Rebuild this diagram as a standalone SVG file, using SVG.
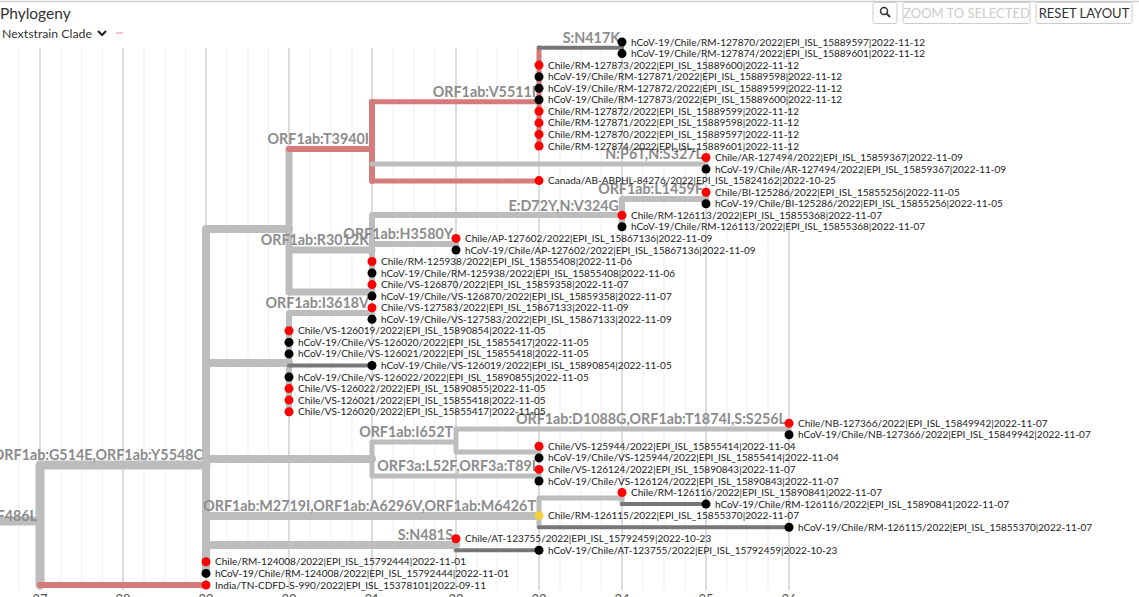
<svg xmlns="http://www.w3.org/2000/svg" width="1139" height="597" viewBox="0 0 1139 597">
<style>
.g{stroke:#bdbdbd;fill:none;stroke-linecap:round}
.r{stroke:#d57b7b;fill:none;stroke-linecap:round}
.d{stroke:#777;fill:none;stroke-linecap:round}
.mj{stroke:#dcdcdc;stroke-width:2}
.mn{stroke:#efefef;stroke-width:1}
.lab{font-family:Lato,"Open Sans",sans-serif;font-weight:bold;font-size:14.3px;fill:#8c8c8c;text-anchor:end}
.tip{font-family:Lato,"Open Sans",sans-serif;font-size:10px;fill:#222}
.ax{font-family:Lato,sans-serif;font-size:13px;fill:#555;text-anchor:middle}
.cr{fill:#f00}.ck{fill:#000}.cy{fill:#f4d03f}
.btn{fill:#fff;stroke:#ccc;stroke-width:1}
.bt{font-family:Lato,"Open Sans",sans-serif;font-size:13px;text-anchor:middle}
</style>
<rect width="1139" height="597" fill="#fff"/>
<line x1="0" y1="1.5" x2="1139" y2="1.5" stroke="#ccc" stroke-width="1.5"/>
<text x="0" y="19" font-family="Lato,sans-serif" font-size="15.5" fill="#333">Phylogeny</text>
<text x="2" y="38" font-family="Lato,sans-serif" font-size="12.3" fill="#333">Nextstrain Clade</text>
<path d="M98 31 l4 4 l4 -4" stroke="#222" stroke-width="2" fill="none"/>
<line x1="116" y1="33" x2="123" y2="33" stroke="#e58a8a" stroke-width="1"/>
<rect class="btn" x="873" y="2.5" width="24" height="21" rx="2"/>
<circle cx="884" cy="11" r="3.5" fill="none" stroke="#333" stroke-width="1.5"/>
<line x1="886.5" y1="13.5" x2="890" y2="17" stroke="#333" stroke-width="2"/>
<rect class="btn" x="903" y="2.5" width="127" height="21" rx="2"/>
<text class="bt" x="966.5" y="18" fill="#ccc">ZOOM TO SELECTED</text>
<rect class="btn" x="1036" y="2.5" width="96" height="21" rx="2"/>
<text class="bt" x="1084" y="18" fill="#333">RESET LAYOUT</text>
<g id="grid">
<g class="mn">
<line x1="19.2" y1="48" x2="19.2" y2="590"/><line x1="60.8" y1="48" x2="60.8" y2="590"/><line x1="81.6" y1="48" x2="81.6" y2="590"/><line x1="102.4" y1="48" x2="102.4" y2="590"/>
<line x1="144" y1="48" x2="144" y2="590"/><line x1="164.8" y1="48" x2="164.8" y2="590"/><line x1="185.6" y1="48" x2="185.6" y2="590"/>
<line x1="227" y1="48" x2="227" y2="590"/><line x1="248" y1="48" x2="248" y2="590"/><line x1="268.6" y1="48" x2="268.6" y2="590"/>
<line x1="310" y1="48" x2="310" y2="590"/><line x1="331" y1="48" x2="331" y2="590"/><line x1="352" y1="48" x2="352" y2="590"/>
<line x1="393" y1="48" x2="393" y2="590"/><line x1="414" y1="48" x2="414" y2="590"/><line x1="435" y1="48" x2="435" y2="590"/>
<line x1="477" y1="48" x2="477" y2="590"/><line x1="497" y1="48" x2="497" y2="590"/><line x1="518" y1="48" x2="518" y2="590"/>
<line x1="560" y1="48" x2="560" y2="590"/><line x1="581" y1="48" x2="581" y2="590"/><line x1="601" y1="48" x2="601" y2="590"/>
<line x1="643" y1="48" x2="643" y2="590"/><line x1="664" y1="48" x2="664" y2="590"/><line x1="685" y1="48" x2="685" y2="590"/>
<line x1="727" y1="48" x2="727" y2="590"/><line x1="747" y1="48" x2="747" y2="590"/><line x1="768" y1="48" x2="768" y2="590"/>
</g>
<g class="mj">
<line x1="40" y1="48" x2="40" y2="590"/><line x1="123" y1="48" x2="123" y2="590"/><line x1="206" y1="48" x2="206" y2="590"/><line x1="289" y1="48" x2="289" y2="590"/><line x1="372" y1="48" x2="372" y2="590"/><line x1="456" y1="48" x2="456" y2="590"/><line x1="539" y1="48" x2="539" y2="590"/><line x1="622" y1="48" x2="622" y2="590"/><line x1="706" y1="48" x2="706" y2="590"/><line x1="789" y1="48" x2="789" y2="590"/>
</g>
<text class="ax" x="40" y="604">27</text><text class="ax" x="123" y="604">28</text><text class="ax" x="206" y="604">29</text><text class="ax" x="289" y="604">30</text><text class="ax" x="372" y="604">31</text><text class="ax" x="456" y="604">32</text><text class="ax" x="539" y="604">33</text><text class="ax" x="622" y="604">34</text><text class="ax" x="706" y="604">35</text><text class="ax" x="789" y="604">36</text>
</g>
<g id="connectors">
<path class="g" stroke-width="9" d="M0 521H40M40 465V585M40 465H206"/>
<path class="r" stroke-width="6" d="M40 585H206"/>
<path class="g" stroke-width="8" d="M206 229V573M206 229H289M206 363H289M206 459H372M206 516H539M206 545H456"/>
<path class="g" stroke-width="7" d="M289 149V292M289 250H372M289 292H372"/>
<path class="r" stroke-width="6" d="M289 149H372M372 101.7V181"/>
<path class="r" stroke-width="5" d="M372 101.7H539M539 47.8V146M372 181H539"/>
<path class="d" stroke-width="4" d="M539 47.8H622M622 42V53.6"/>
<path class="g" stroke-width="5" d="M372 164H706M706 157.5V169.1"/>
<path class="g" stroke-width="6" d="M372 215V296M372 215H622M622 199V226.8M622 199H706M706 192.2V203.7M372 244H456M456 238.4V250"/>
<path class="g" stroke-width="6" d="M289 313V411.7M289 313H372M372 307.7V319.2"/>
<path class="d" stroke-width="4" d="M289 365.5H372"/>
<path class="g" stroke-width="5" d="M372 442V476M372 442H456M456 429V452M456 429H789M789 423.2V434.8M456 452H539M539 446.3V457.9M372 476H539M539 469.4V481"/>
<path class="g" stroke-width="5" d="M539 498V527M539 498H622M622 492.5V504.1M456 538.7V550.3"/>
<path class="d" stroke-width="4" d="M622 504.1H706M539 527.2H789M456 550.3H539"/>
</g>
<g id="labels">
<text class="lab" x="620" y="43">S:N417K</text>
<text class="lab" x="536" y="97">ORF1ab:V5511I</text>
<text class="lab" x="369" y="144">ORF1ab:T3940I</text>
<text class="lab" x="703" y="159">N:P6T,N:S327L</text>
<text class="lab" x="703" y="194">ORF1ab:L1459F</text>
<text class="lab" x="619" y="211">E:D72Y,N:V324G</text>
<text class="lab" x="369" y="245">ORF1ab:R3012K</text>
<text class="lab" x="453" y="239">ORF1ab:H3580Y</text>
<text class="lab" x="369" y="308">ORF1ab:I3618V</text>
<text class="lab" x="786" y="424">ORF1ab:D1088G,ORF1ab:T1874I,S:S256L</text>
<text class="lab" x="453" y="437">ORF1ab:I652T</text>
<text class="lab" x="203" y="460">ORF1ab:G514E,ORF1ab:Y5548C</text>
<text class="lab" x="536" y="471">ORF3a:L52F,ORF3a:T89I</text>
<text class="lab" x="536" y="511">ORF1ab:M2719I,ORF1ab:A6296V,ORF1ab:M6426T</text>
<text class="lab" x="453" y="540">S:N481S</text>
<text class="lab" x="37" y="521">F486L</text>
</g>
<g id="tips">
<g id="t1"><circle class="ck" cx="622" cy="42" r="4.5"/><text class="tip" x="631" y="45.5">hCoV-19/Chile/RM-127870/2022|EPI_ISL_15889597|2022-11-12</text></g>
<g id="t2"><circle class="ck" cx="622" cy="53.6" r="4.5"/><text class="tip" x="631" y="57.1">hCoV-19/Chile/RM-127874/2022|EPI_ISL_15889601|2022-11-12</text></g>
<g id="t3"><circle class="cr" cx="539" cy="65.1" r="4.5"/><text class="tip" x="548" y="68.6">Chile/RM-127873/2022|EPI_ISL_15889600|2022-11-12</text></g>
<g id="t4"><circle class="ck" cx="539" cy="76.7" r="4.5"/><text class="tip" x="548" y="80.2">hCoV-19/Chile/RM-127871/2022|EPI_ISL_15889598|2022-11-12</text></g>
<g id="t5"><circle class="ck" cx="539" cy="88.2" r="4.5"/><text class="tip" x="548" y="91.7">hCoV-19/Chile/RM-127872/2022|EPI_ISL_15889599|2022-11-12</text></g>
<g id="t6"><circle class="ck" cx="539" cy="99.8" r="4.5"/><text class="tip" x="548" y="103.3">hCoV-19/Chile/RM-127873/2022|EPI_ISL_15889600|2022-11-12</text></g>
<g id="t7"><circle class="cr" cx="539" cy="111.3" r="4.5"/><text class="tip" x="548" y="114.8">Chile/RM-127872/2022|EPI_ISL_15889599|2022-11-12</text></g>
<g id="t8"><circle class="cr" cx="539" cy="122.9" r="4.5"/><text class="tip" x="548" y="126.4">Chile/RM-127871/2022|EPI_ISL_15889598|2022-11-12</text></g>
<g id="t9"><circle class="cr" cx="539" cy="134.4" r="4.5"/><text class="tip" x="548" y="137.9">Chile/RM-127870/2022|EPI_ISL_15889597|2022-11-12</text></g>
<g id="t10"><circle class="cr" cx="539" cy="146" r="4.5"/><text class="tip" x="548" y="149.5">Chile/RM-127874/2022|EPI_ISL_15889601|2022-11-12</text></g>
<g id="t11"><circle class="cr" cx="706" cy="157.5" r="4.5"/><text class="tip" x="715" y="161">Chile/AR-127494/2022|EPI_ISL_15859367|2022-11-09</text></g>
<g id="t12"><circle class="ck" cx="706" cy="169.1" r="4.5"/><text class="tip" x="715" y="172.6">hCoV-19/Chile/AR-127494/2022|EPI_ISL_15859367|2022-11-09</text></g>
<g id="t13"><circle class="cr" cx="539" cy="180.6" r="4.5"/><text class="tip" x="548" y="184.1">Canada/AB-ABPHL-84276/2022|EPI_ISL_15824162|2022-10-25</text></g>
<g id="t14"><circle class="cr" cx="706" cy="192.2" r="4.5"/><text class="tip" x="715" y="195.7">Chile/BI-125286/2022|EPI_ISL_15855256|2022-11-05</text></g>
<g id="t15"><circle class="ck" cx="706" cy="203.7" r="4.5"/><text class="tip" x="715" y="207.2">hCoV-19/Chile/BI-125286/2022|EPI_ISL_15855256|2022-11-05</text></g>
<g id="t16"><circle class="cr" cx="622" cy="215.3" r="4.5"/><text class="tip" x="631" y="218.8">Chile/RM-126113/2022|EPI_ISL_15855368|2022-11-07</text></g>
<g id="t17"><circle class="ck" cx="622" cy="226.8" r="4.5"/><text class="tip" x="631" y="230.3">hCoV-19/Chile/RM-126113/2022|EPI_ISL_15855368|2022-11-07</text></g>
<g id="t18"><circle class="cr" cx="456" cy="238.4" r="4.5"/><text class="tip" x="465" y="241.9">Chile/AP-127602/2022|EPI_ISL_15867136|2022-11-09</text></g>
<g id="t19"><circle class="ck" cx="456" cy="250" r="4.5"/><text class="tip" x="465" y="253.5">hCoV-19/Chile/AP-127602/2022|EPI_ISL_15867136|2022-11-09</text></g>
<g id="t20"><circle class="cr" cx="372" cy="261.5" r="4.5"/><text class="tip" x="381" y="265">Chile/RM-125938/2022|EPI_ISL_15855408|2022-11-06</text></g>
<g id="t21"><circle class="ck" cx="372" cy="273" r="4.5"/><text class="tip" x="381" y="276.5">hCoV-19/Chile/RM-125938/2022|EPI_ISL_15855408|2022-11-06</text></g>
<g id="t22"><circle class="cr" cx="372" cy="284.6" r="4.5"/><text class="tip" x="381" y="288.1">Chile/VS-126870/2022|EPI_ISL_15859358|2022-11-07</text></g>
<g id="t23"><circle class="ck" cx="372" cy="296.1" r="4.5"/><text class="tip" x="381" y="299.6">hCoV-19/Chile/VS-126870/2022|EPI_ISL_15859358|2022-11-07</text></g>
<g id="t24"><circle class="cr" cx="372" cy="307.7" r="4.5"/><text class="tip" x="381" y="311.2">Chile/VS-127583/2022|EPI_ISL_15867133|2022-11-09</text></g>
<g id="t25"><circle class="ck" cx="372" cy="319.2" r="4.5"/><text class="tip" x="381" y="322.7">hCoV-19/Chile/VS-127583/2022|EPI_ISL_15867133|2022-11-09</text></g>
<g id="t26"><circle class="cr" cx="289" cy="330.8" r="4.5"/><text class="tip" x="298" y="334.3">Chile/VS-126019/2022|EPI_ISL_15890854|2022-11-05</text></g>
<g id="t27"><circle class="ck" cx="289" cy="342.4" r="4.5"/><text class="tip" x="298" y="345.9">hCoV-19/Chile/VS-126020/2022|EPI_ISL_15855417|2022-11-05</text></g>
<g id="t28"><circle class="ck" cx="289" cy="353.9" r="4.5"/><text class="tip" x="298" y="357.4">hCoV-19/Chile/VS-126021/2022|EPI_ISL_15855418|2022-11-05</text></g>
<g id="t29"><circle class="ck" cx="372" cy="365.5" r="4.5"/><text class="tip" x="381" y="369">hCoV-19/Chile/VS-126019/2022|EPI_ISL_15890854|2022-11-05</text></g>
<g id="t30"><circle class="ck" cx="289" cy="377" r="4.5"/><text class="tip" x="298" y="380.5">hCoV-19/Chile/VS-126022/2022|EPI_ISL_15890855|2022-11-05</text></g>
<g id="t31"><circle class="cr" cx="289" cy="388.6" r="4.5"/><text class="tip" x="298" y="392.1">Chile/VS-126022/2022|EPI_ISL_15890855|2022-11-05</text></g>
<g id="t32"><circle class="cr" cx="289" cy="400.1" r="4.5"/><text class="tip" x="298" y="403.6">Chile/VS-126021/2022|EPI_ISL_15855418|2022-11-05</text></g>
<g id="t33"><circle class="cr" cx="289" cy="411.7" r="4.5"/><text class="tip" x="298" y="415.2">Chile/VS-126020/2022|EPI_ISL_15855417|2022-11-05</text></g>
<g id="t34"><circle class="cr" cx="789" cy="423.2" r="4.5"/><text class="tip" x="798" y="426.7">Chile/NB-127366/2022|EPI_ISL_15849942|2022-11-07</text></g>
<g id="t35"><circle class="ck" cx="789" cy="434.8" r="4.5"/><text class="tip" x="798" y="438.3">hCoV-19/Chile/NB-127366/2022|EPI_ISL_15849942|2022-11-07</text></g>
<g id="t36"><circle class="cr" cx="539" cy="446.3" r="4.5"/><text class="tip" x="548" y="449.8">Chile/VS-125944/2022|EPI_ISL_15855414|2022-11-04</text></g>
<g id="t37"><circle class="ck" cx="539" cy="457.9" r="4.5"/><text class="tip" x="548" y="461.4">hCoV-19/Chile/VS-125944/2022|EPI_ISL_15855414|2022-11-04</text></g>
<g id="t38"><circle class="cr" cx="539" cy="469.4" r="4.5"/><text class="tip" x="548" y="472.9">Chile/VS-126124/2022|EPI_ISL_15890843|2022-11-07</text></g>
<g id="t39"><circle class="ck" cx="539" cy="481" r="4.5"/><text class="tip" x="548" y="484.5">hCoV-19/Chile/VS-126124/2022|EPI_ISL_15890843|2022-11-07</text></g>
<g id="t40"><circle class="cr" cx="622" cy="492.5" r="4.5"/><text class="tip" x="631" y="496">Chile/RM-126116/2022|EPI_ISL_15890841|2022-11-07</text></g>
<g id="t41"><circle class="ck" cx="706" cy="504.1" r="4.5"/><text class="tip" x="715" y="507.6">hCoV-19/Chile/RM-126116/2022|EPI_ISL_15890841|2022-11-07</text></g>
<g id="t42"><circle class="cy" cx="539" cy="515.6" r="4.5"/><text class="tip" x="548" y="519.1">Chile/RM-126115/2022|EPI_ISL_15855370|2022-11-07</text></g>
<g id="t43"><circle class="ck" cx="789" cy="527.2" r="4.5"/><text class="tip" x="798" y="530.7">hCoV-19/Chile/RM-126115/2022|EPI_ISL_15855370|2022-11-07</text></g>
<g id="t44"><circle class="cr" cx="456" cy="538.7" r="4.5"/><text class="tip" x="465" y="542.2">Chile/AT-123755/2022|EPI_ISL_15792459|2022-10-23</text></g>
<g id="t45"><circle class="ck" cx="539" cy="550.3" r="4.5"/><text class="tip" x="548" y="553.8">hCoV-19/Chile/AT-123755/2022|EPI_ISL_15792459|2022-10-23</text></g>
<g id="t46"><circle class="cr" cx="206" cy="561.8" r="4.5"/><text class="tip" x="215" y="565.3">Chile/RM-124008/2022|EPI_ISL_15792444|2022-11-01</text></g>
<g id="t47"><circle class="ck" cx="206" cy="573.4" r="4.5"/><text class="tip" x="215" y="576.9">hCoV-19/Chile/RM-124008/2022|EPI_ISL_15792444|2022-11-01</text></g>
<g id="t48"><circle class="cr" cx="206" cy="585" r="4.5"/><text class="tip" x="215" y="588.5">India/TN-CDFD-S-990/2022|EPI_ISL_15378101|2022-09-11</text></g>
</g>
</svg>
